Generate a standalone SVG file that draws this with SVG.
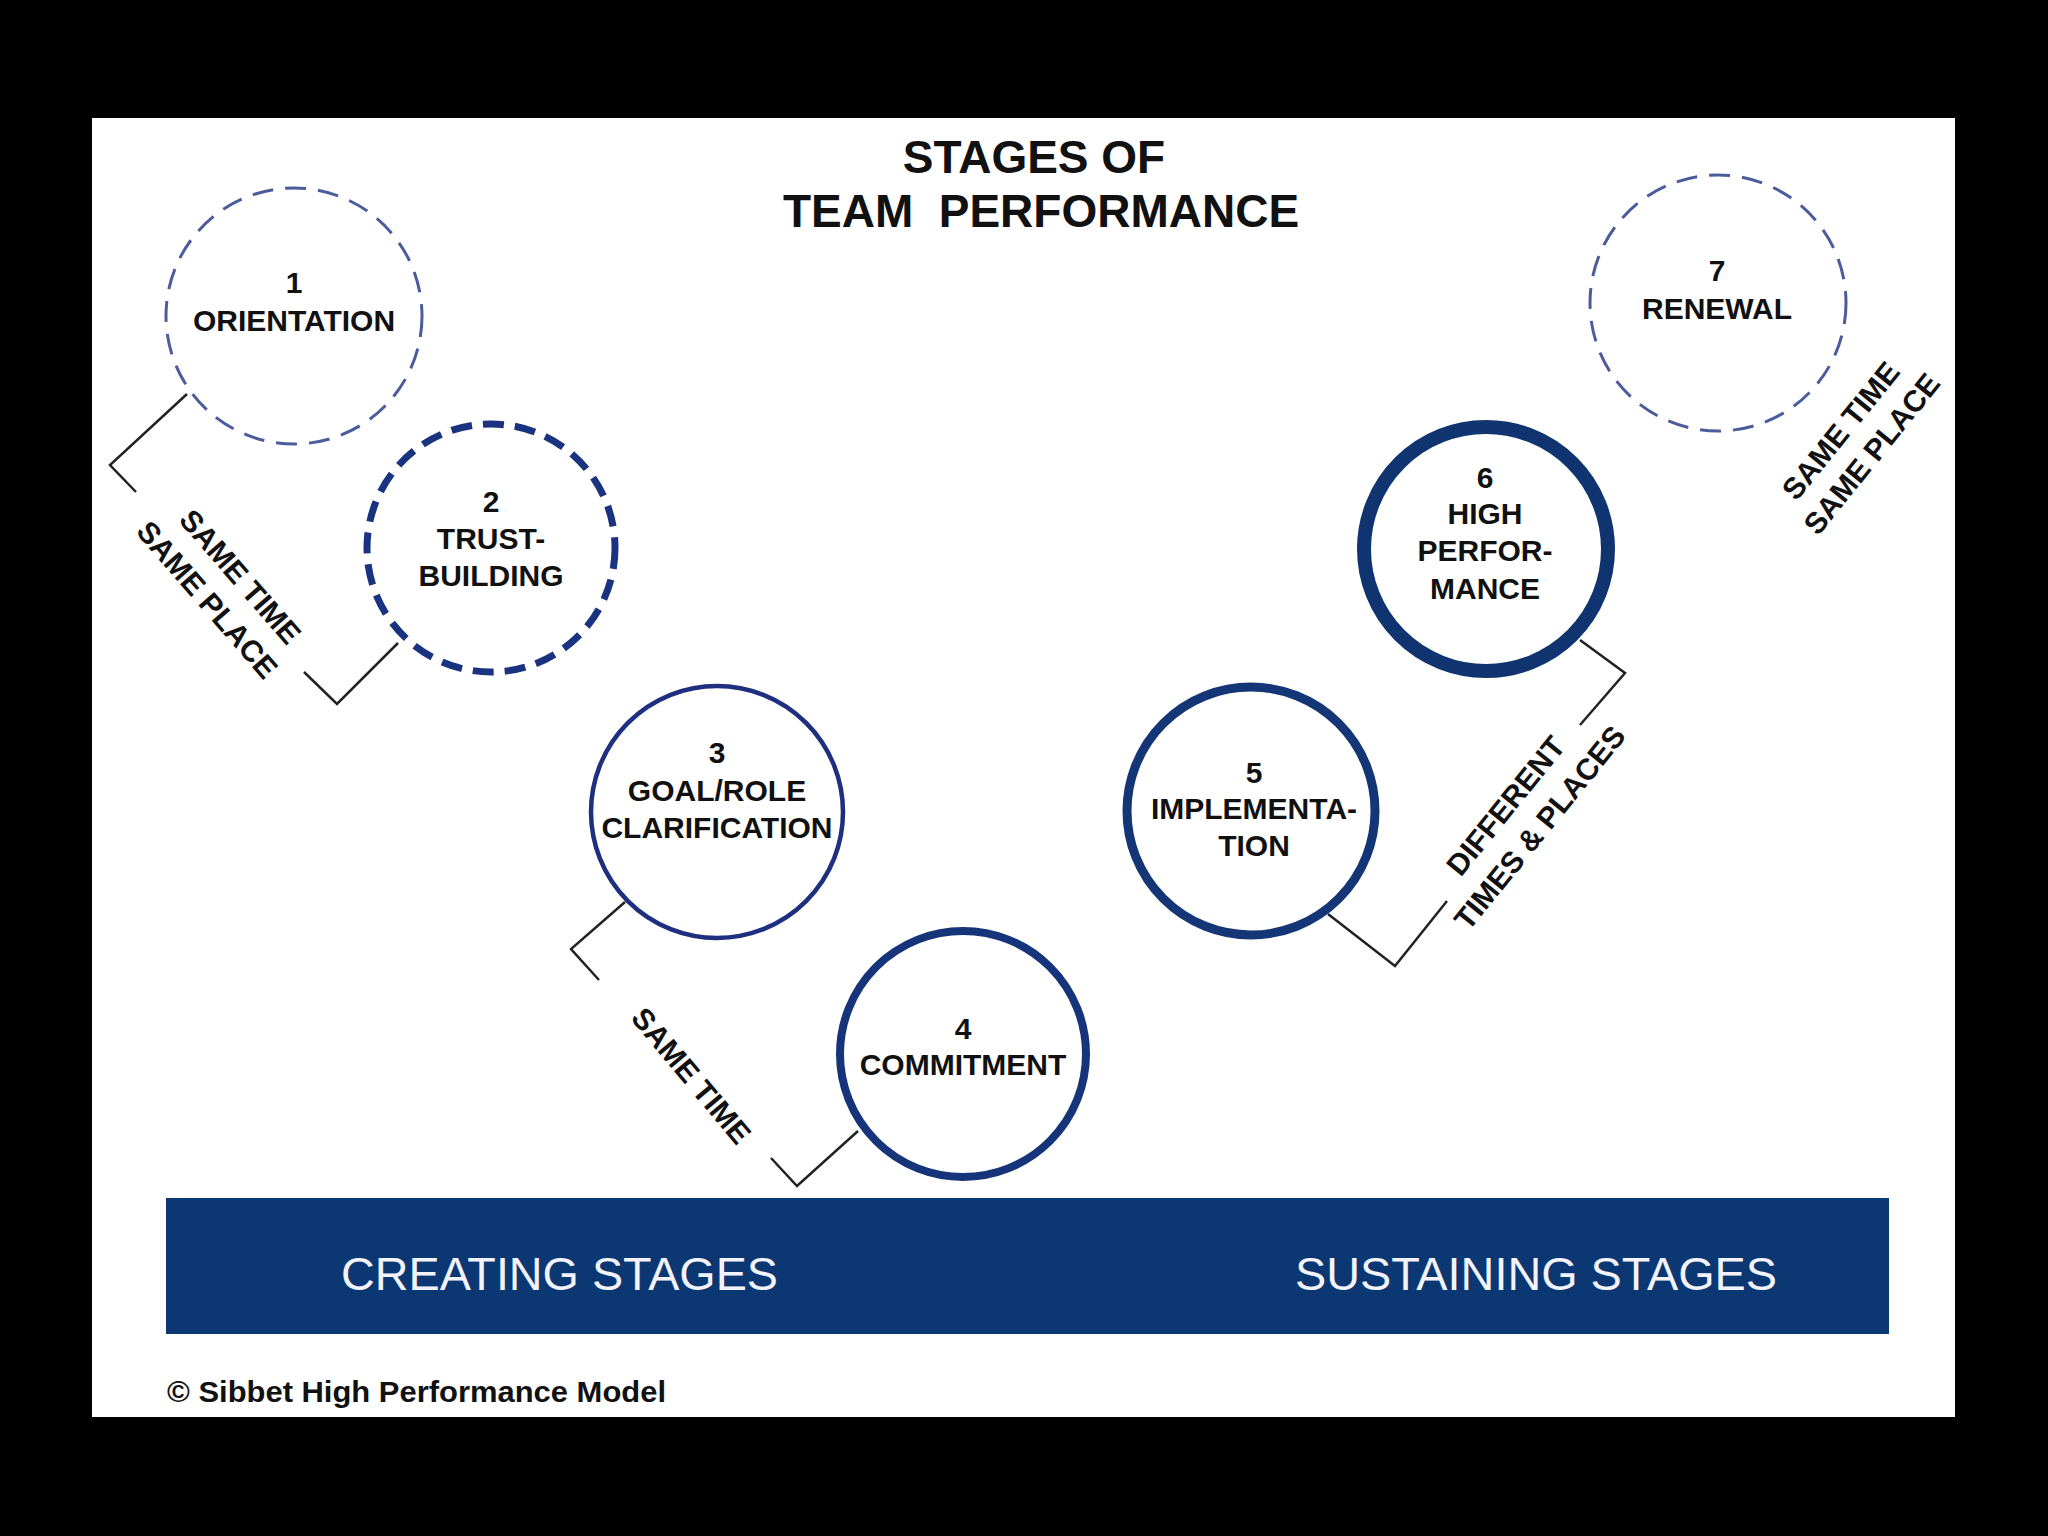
<svg xmlns="http://www.w3.org/2000/svg" width="2048" height="1536" viewBox="0 0 2048 1536">
<style>
.node-label{font-family:"Liberation Sans",Arial,sans-serif;font-weight:bold;font-size:30px;fill:#111;text-anchor:middle}
.conn-label{font-family:"Liberation Sans",Arial,sans-serif;font-weight:bold;font-size:30px;fill:#111;text-anchor:middle}
.title{font-family:"Liberation Sans",Arial,sans-serif;font-weight:bold;font-size:46px;fill:#111;text-anchor:middle}
.band-label{font-family:"Liberation Sans",Arial,sans-serif;font-size:46px;fill:#f4f2fb}
.bracket{fill:none;stroke:#222;stroke-width:2.5;stroke-linejoin:miter}
.ring{fill:#fff}
.dash-light{stroke:#4b5c9c;stroke-width:3;stroke-dasharray:21 12}
.dash-heavy{stroke:#1a3380;stroke-width:7;stroke-dasharray:21 11}
</style>
<rect x="0" y="0" width="2048" height="1536" fill="#000"/>
<rect x="92" y="118" width="1863" height="1299" fill="#fff"/>

<g id="title">
<text class="title" x="1034" y="173">STAGES OF</text>
<text class="title" x="1041" y="227" xml:space="preserve">TEAM  PERFORMANCE</text>
</g>

<g id="connectors">
<path class="bracket" d="M187,394 L110,465 L136,492"/>
<path class="bracket" d="M304,672 L337,704 L398,643"/>
<path class="bracket" d="M625,902 L571,949 L599,980"/>
<path class="bracket" d="M771,1158 L797,1186 L858,1131"/>
<path class="bracket" d="M1580,640 L1625,673 L1580,725"/>
<path class="bracket" d="M1328,914 L1395,966 L1447,901"/>
<g transform="translate(240,577) rotate(49)"><text class="conn-label" x="0" y="10">SAME TIME</text></g>
<g transform="translate(207,600) rotate(49)"><text class="conn-label" x="0" y="10">SAME PLACE</text></g>
<g transform="translate(691,1076) rotate(50)"><text class="conn-label" x="0" y="10">SAME TIME</text></g>
<g transform="translate(1506,806) rotate(-51)"><text class="conn-label" x="0" y="10">DIFFERENT</text></g>
<g transform="translate(1540,828) rotate(-51)"><text class="conn-label" x="0" y="10">TIMES &amp; PLACES</text></g>
<g transform="translate(1841,431) rotate(-51)"><text class="conn-label" x="0" y="10">SAME TIME</text></g>
<g transform="translate(1872,454) rotate(-51)"><text class="conn-label" x="0" y="10">SAME PLACE</text></g>
</g>

<g id="node1">
<circle class="ring dash-light" cx="294" cy="316" r="128"/>
<text class="node-label" x="294" y="293">1</text>
<text class="node-label" x="294" y="331">ORIENTATION</text>
</g>
<g id="node2">
<circle class="ring dash-heavy" cx="491" cy="548" r="124"/>
<text class="node-label" x="491" y="512">2</text>
<text class="node-label" x="491" y="549">TRUST-</text>
<text class="node-label" x="491" y="586">BUILDING</text>
</g>
<g id="node3">
<circle class="ring" cx="717" cy="812" r="126" stroke="#1f2f80" stroke-width="4.5"/>
<text class="node-label" x="717" y="763">3</text>
<text class="node-label" x="717" y="801">GOAL/ROLE</text>
<text class="node-label" x="717" y="838">CLARIFICATION</text>
</g>
<g id="node4">
<circle class="ring" cx="963" cy="1054" r="123" stroke="#16347a" stroke-width="8"/>
<text class="node-label" x="963" y="1039">4</text>
<text class="node-label" x="963" y="1075">COMMITMENT</text>
</g>
<g id="node5">
<circle class="ring" cx="1251" cy="811" r="124" stroke="#143677" stroke-width="9"/>
<text class="node-label" x="1254" y="783">5</text>
<text class="node-label" x="1254" y="819">IMPLEMENTA-</text>
<text class="node-label" x="1254" y="856">TION</text>
</g>
<g id="node6">
<circle class="ring" cx="1486" cy="549" r="122" stroke="#0f3470" stroke-width="14"/>
<text class="node-label" x="1485" y="488">6</text>
<text class="node-label" x="1485" y="524">HIGH</text>
<text class="node-label" x="1485" y="561">PERFOR-</text>
<text class="node-label" x="1485" y="599">MANCE</text>
</g>
<g id="node7">
<circle class="ring dash-light" cx="1718" cy="303" r="128"/>
<text class="node-label" x="1717" y="281">7</text>
<text class="node-label" x="1717" y="319">RENEWAL</text>
</g>

<g id="band">
<rect x="166" y="1198" width="1723" height="136" fill="#0b3873"/>
<text class="band-label" x="341" y="1290" textLength="437" lengthAdjust="spacingAndGlyphs">CREATING STAGES</text>
<text class="band-label" x="1295" y="1290" textLength="482" lengthAdjust="spacingAndGlyphs">SUSTAINING STAGES</text>
</g>

<g id="footer">
<text x="167" y="1402" font-family="'Liberation Sans',Arial,sans-serif" font-weight="bold" font-size="30" fill="#111" textLength="499" lengthAdjust="spacingAndGlyphs">© Sibbet High Performance Model</text>
</g>
</svg>
